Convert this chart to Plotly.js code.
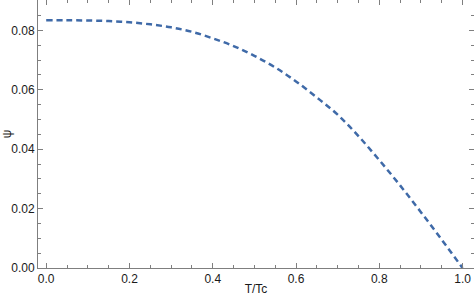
<!DOCTYPE html>
<html>
<head>
<meta charset="utf-8">
<script src="https://cdn.plot.ly/plotly-3.0.1.min.js"></script>
<style>html,body{margin:0;padding:0;background:#fff;}#chart{width:474px;height:296px;}</style>
</head>
<body>
<div id="chart"></div>
<script>
const tValues = [0, 0.05, 0.1, 0.15, 0.2, 0.25, 0.3, 0.35, 0.4, 0.45, 0.5, 0.55, 0.6, 0.65, 0.7, 0.75, 0.8, 0.85, 0.9, 0.95, 1.0];
const psiValues = [0.0834, 0.0834, 0.0833, 0.0831, 0.0827, 0.0820, 0.0810, 0.0795, 0.0773, 0.0747, 0.0714, 0.0675, 0.0628, 0.0574, 0.0516, 0.0444, 0.0363, 0.0278, 0.0188, 0.0095, 0.0];
const xTickVals = [0, 0.2, 0.4, 0.6, 0.8, 1.0];
const xTickText = ["0.0", "0.2", "0.4", "0.6", "0.8", "1.0"];
const yTickVals = [0, 0.02, 0.04, 0.06, 0.08];
const yTickText = ["0.00", "0.02", "0.04", "0.06", "0.08"];

const frame = '#7f7f7f';
const font = {family: 'Liberation Sans, Arial, sans-serif', size: 12, color: '#1a1a1a'};
const xRange = [-0.0197, 1.0275];
const yRange = [0, 0.0902];

const baseX = {
  range: xRange, tickvals: xTickVals, ticktext: xTickText,
  ticks: 'inside', ticklen: 5, tickwidth: 1, tickcolor: frame,
  showgrid: false, zeroline: false,
  minor: {dtick: 0.05, tick0: 0, ticks: 'inside', ticklen: 3, tickcolor: frame, showgrid: false},
  tickfont: font
};
const baseY = {
  range: yRange, tickvals: yTickVals, ticktext: yTickText,
  ticks: 'inside', ticklen: 5, tickwidth: 1, tickcolor: frame,
  showgrid: false, zeroline: false,
  minor: {dtick: 0.005, tick0: 0, ticks: 'inside', ticklen: 3, tickcolor: frame, showgrid: false},
  tickfont: font
};

Plotly.newPlot('chart', [{
  x: tValues, y: psiValues, type: 'scatter', mode: 'lines',
  line: {color: '#3f6aa8', width: 2.5, dash: '6px,4px', shape: 'spline'},
  hoverinfo: 'skip'
}, {
  x: tValues, y: psiValues, xaxis: 'x2', yaxis: 'y2', type: 'scatter', mode: 'lines',
  opacity: 0, line: {width: 0}, hoverinfo: 'skip', showlegend: false
}], {
  width: 474, height: 296,
  margin: {l: 38, r: 0, t: 0, b: 28},
  paper_bgcolor: '#fff', plot_bgcolor: '#fff',
  showlegend: false,
  font: font,
  xaxis: Object.assign({}, baseX, {
    showline: true, linecolor: frame, linewidth: 1, mirror: false,
    title: {text: 'T/Tc', font: font, standoff: 5}
  }),
  yaxis: Object.assign({}, baseY, {
    showline: true, linecolor: frame, linewidth: 1, mirror: false,
    title: {text: 'ψ', font: font, standoff: 6}
  }),
  xaxis2: Object.assign({}, baseX, {
    overlaying: 'x', side: 'top', showline: false, showticklabels: false
  }),
  yaxis2: Object.assign({}, baseY, {
    overlaying: 'y', side: 'right', showline: false, showticklabels: false
  })
}, {staticPlot: true, displayModeBar: false});
</script>
</body>
</html>
